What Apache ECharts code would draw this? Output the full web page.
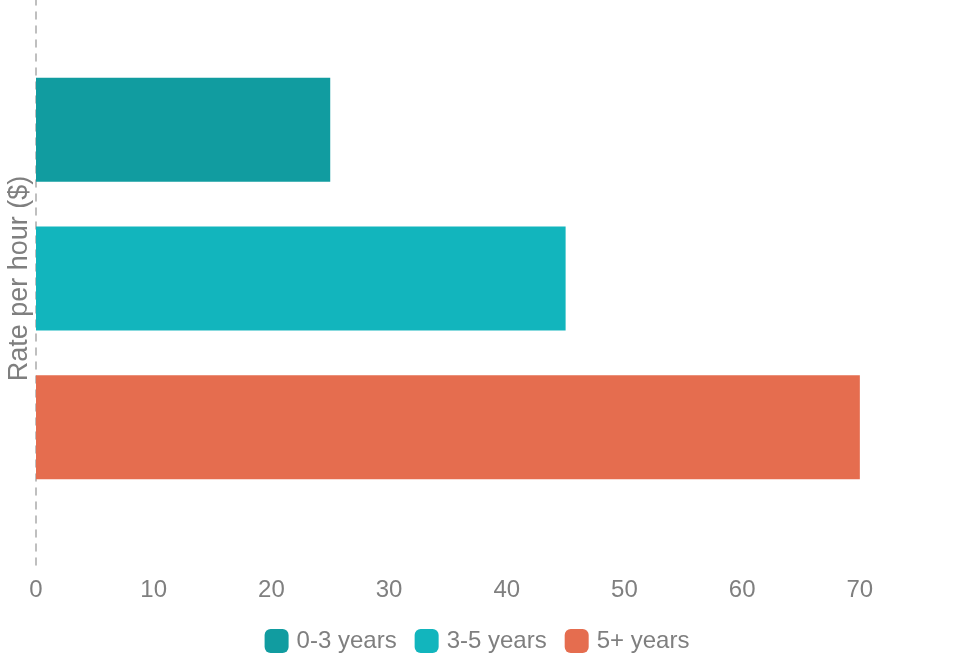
<!DOCTYPE html>
<html>
<head>
<meta charset="utf-8">
<script src="https://cdn.jsdelivr.net/npm/echarts@6/dist/echarts.min.js"></script>
<style>html,body{margin:0;padding:0;background:#fff}#c{width:954px;height:668px}</style>
</head>
<body>
<div id="c"></div>
<script>
const categories = ['Rate'];
const seriesNames = ['0-3 years', '3-5 years', '5+ years'];
const seriesValues = [[25], [45], [70]];
const seriesColors = ['#119ca0', '#12b5bd', '#e56d4f'];
const xTicks = [0, 10, 20, 30, 40, 50, 60, 70];

const chart = echarts.init(document.getElementById('c'));
const font = '"Liberation Sans", Arial, Helvetica, sans-serif';
chart.setOption({
  animation: false,
  textStyle: { fontFamily: font },
  grid: { left: 36, right: 0, top: -8, bottom: 103, containLabel: false, outerBoundsMode: 'none' },
  legend: {
    data: seriesNames,
    left: 'center',
    top: 624,
    itemWidth: 24,
    itemHeight: 24,
    itemGap: 18,
    icon: 'roundRect',
    textStyle: { color: '#7f7f7f', fontSize: 24, fontFamily: font, padding: [0, 0, 0, 3] }
  },
  xAxis: {
    type: 'value',
    min: xTicks[0],
    max: 78,
    interval: 10,
    axisLine: { show: false },
    axisTick: { show: false },
    splitLine: { show: false },
    axisLabel: { color: '#7f7f7f', fontSize: 24, margin: 13, showMaxLabel: false, fontFamily: font }
  },
  yAxis: {
    type: 'category',
    data: categories,
    name: 'Rate per hour ($)',
    nameLocation: 'middle',
    nameGap: 3,
    nameTextStyle: { color: '#7f7f7f', fontSize: 27, fontFamily: font },
    axisLine: { show: true, lineStyle: { color: '#aaaaaa', width: 1.5, type: [7, 7] } },
    axisTick: { show: false },
    axisLabel: { show: false },
    splitLine: { show: false }
  },
  series: seriesNames.map((n, i) => ({
    name: n,
    type: 'bar',
    data: seriesValues[i],
    barWidth: 104,
    barGap: '43%',
    itemStyle: { color: seriesColors[i] }
  }))
});
</script>
</body>
</html>
